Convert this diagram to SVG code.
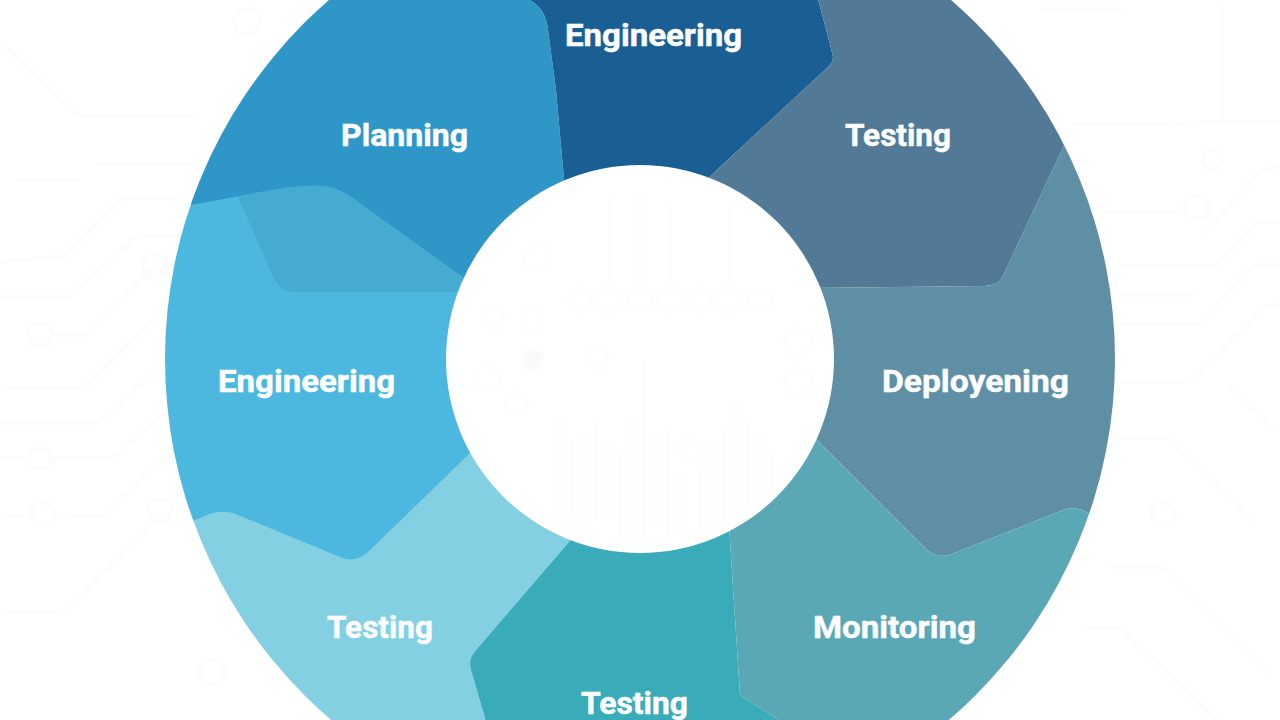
<svg xmlns="http://www.w3.org/2000/svg" width="1280" height="720" viewBox="0 0 1280 720">
<style>
.bg{fill:none;stroke:#fafafa;stroke-width:2.5;stroke-linejoin:round}
.inner{fill:none;stroke:#fbfbfb;stroke-width:2}
.lbl{font-family:"Roboto","Liberation Sans",sans-serif;font-weight:700;font-size:31px;fill:#fbfdfe;stroke:#fbfdfe;stroke-width:0.5}
</style>
<defs>
<clipPath id="ring"><circle cx="640" cy="359" r="475"/></clipPath>
<filter id="soft" x="-5%" y="-5%" width="110%" height="110%"><feGaussianBlur stdDeviation="0.8"/></filter>
</defs>
<rect width="1280" height="720" fill="#ffffff"/>
<g id="circuit-background" filter="url(#soft)">
<path class="bg" d="M0,41L77,115H200M97,164H193M17,180H80M122,198H177M122,198L65,256L0,262M0,297H68L138,235H177M155,266L87,335H52M0,389H83L157,316M0,423H97L167,360M0,458H28M52,458H112L167,412M0,517H30M67,517H100L170,454M0,613H63L147,530"/>
<circle class="bg" cx="40" cy="335" r="12"/><circle class="bg" cx="155" cy="266" r="12"/><circle class="bg" cx="40" cy="458" r="11"/><circle class="bg" cx="43" cy="514" r="12"/><circle class="bg" cx="160" cy="511" r="12"/><circle class="bg" cx="212" cy="672" r="13"/><circle class="bg" cx="247" cy="22" r="13"/>
<path class="bg" d="M1073,124L1280,122M1222,0V122M1040,9H1123M1103,211H1185M1203,237L1260,170L1280,166M1120,266H1215L1257,223L1280,221M1117,295H1198M1117,325H1197L1253,266L1280,265M1120,382H1188L1267,306L1280,304M1227,385L1273,428M1120,438H1167L1257,525M1107,567H1163L1273,677M1080,627H1120L1217,720"/>
<circle class="bg" cx="1197" cy="207" r="12"/><circle class="bg" cx="1212" cy="159" r="10"/><circle class="bg" cx="1163" cy="514" r="12"/>
</g>
<g clip-path="url(#ring)">
<g id="testing-left"><path fill="#82d0e2" d="M100,440L640,359L575,535L476,650C470,657 469,662 471,670L487,725H100Z"/></g>
<g id="engineering-left"><path fill="#4db8df" d="M100,180H640V359L476,447L468,455L367,553C358,560 350,561 340,557L238,515C228,511 220,511 210,514L195,520L100,540Z"/></g>
<g id="planning"><path fill="#2f97c8" d="M100,220L191,205L240,196C270,190 300,185 320,186C340,187 352,197 365,207L472,284L640,359L565,190L556,90L548,30C546,12 538,0 515,-5H300L100,100Z"/>
<path fill="#46abd0" d="M238,197L271,272C276,285 283,292 295,292H480L472,284L365,207C352,197 340,187 320,186C300,185 270,190 240,196Z"/></g>
<g id="engineering-top"><path fill="#1a5f93" d="M565,190L556,90L548,30C546,12 538,0 515,-5H817L832,52C834,58 833,62 828,67L704,182L640,359Z"/></g>
<g id="testing-top"><path fill="#527a96" d="M704,182L828,67C833,62 834,58 832,52L817,-5H1100V122H1075L1002,278C998,284 993,285 985,286L810,288L640,359Z"/></g>
<g id="deployening"><path fill="#5e8fa5" d="M810,288L985,286C993,285 998,284 1002,278L1075,122H1200V520L1088,513C1080,508 1072,507 1063,510L952,554C942,558 932,555 925,548L812,435L640,359Z"/></g>
<g id="testing-bottom"><path fill="#3aabb8" d="M575,535L476,650C470,657 469,662 471,670L487,725H800L782,722L740,695L729,525L640,359Z"/></g>
<g id="monitoring"><path fill="#5aa8b5" d="M812,435L925,548C932,555 942,558 952,554L1063,510C1072,507 1080,508 1088,513L1200,520L1100,725H800L782,722L740,695L729,525L640,359Z"/></g>
</g>
<g id="hub">
<circle cx="640" cy="359" r="194" fill="#ffffff"/>
<g filter="url(#soft)">
<path class="inner" d="M610,195V282M640,190V282M670,205V282M730,205V282M560,515V420M572,515V440M584,530V430M596,520V420M608,520V440M620,535V450M632,535V420M644,535V360M656,530V430M668,535V430M680,535V470M700,530V470M712,525V440M724,520V430M736,510V400M748,510V420M760,500V430M772,490V450"/>
<g class="inner"><circle cx="580" cy="300" r="12"/><circle cx="610" cy="300" r="12"/><circle cx="640" cy="300" r="12"/><circle cx="670" cy="300" r="12"/><circle cx="700" cy="300" r="12"/><circle cx="730" cy="300" r="12"/><circle cx="760" cy="300" r="12"/><circle cx="493" cy="317" r="11"/><circle cx="532" cy="320" r="11"/><circle cx="532" cy="360" r="11" fill="#fafafa"/><circle cx="488" cy="377" r="12"/><circle cx="517" cy="403" r="11"/><circle cx="798" cy="342" r="13"/><circle cx="798" cy="382" r="13"/><circle cx="537" cy="258" r="13"/><circle cx="597" cy="357" r="11"/><circle cx="690" cy="450" r="10"/></g>
</g>
</g>
<g id="labels">
<text class="lbl" x="565" y="46" textLength="177" lengthAdjust="spacingAndGlyphs">Engineering</text>
<text class="lbl" x="341" y="146" textLength="127" lengthAdjust="spacingAndGlyphs">Planning</text>
<text class="lbl" x="845" y="146" textLength="106" lengthAdjust="spacingAndGlyphs">Testing</text>
<text class="lbl" x="218" y="392" textLength="177" lengthAdjust="spacingAndGlyphs">Engineering</text>
<text class="lbl" x="882" y="392" textLength="187" lengthAdjust="spacingAndGlyphs">Deployening</text>
<text class="lbl" x="327" y="638" textLength="106" lengthAdjust="spacingAndGlyphs">Testing</text>
<text class="lbl" x="813" y="638" textLength="163" lengthAdjust="spacingAndGlyphs">Monitoring</text>
<text class="lbl" x="581" y="714" textLength="107" lengthAdjust="spacingAndGlyphs">Testing</text>
</g>
</svg>
